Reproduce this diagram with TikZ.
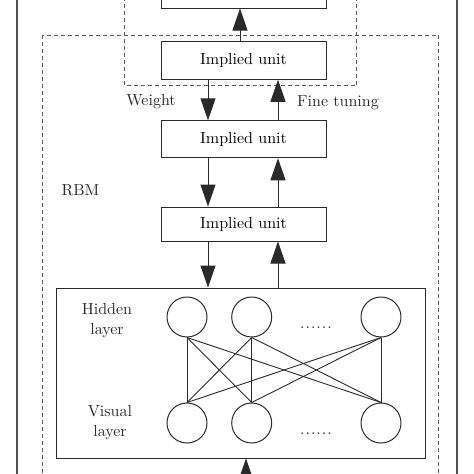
\documentclass[tikz,border=0pt]{standalone}
\usepackage{fontspec}
\setmainfont{lmroman10-regular.otf}
\usetikzlibrary{arrows.meta,calc}
\definecolor{linec}{HTML}{2A2A2A}
\definecolor{dashc}{HTML}{5A5A5A}
\definecolor{outerc}{HTML}{505050}
\begin{document}
\begin{tikzpicture}[x=1pt,y=-1pt, font=\fontsize{16}{20}\selectfont,
  unitbox/.style={draw=linec, line width=1pt, minimum width=165pt, inner sep=0pt},
  neuron/.style={circle, draw=linec, line width=1pt, minimum size=40pt, inner sep=0pt},
  dashbox/.style={draw=dashc, line width=1pt, dash pattern=on 4pt off 3pt},
  arr/.style={draw=linec, line width=1pt, -{Triangle[length=22pt,width=15pt]}},
  link/.style={draw=linec, line width=0.9pt},
  lbl/.style={text=linec, inner sep=0pt}]
\useasboundingbox (0,0) rectangle (474,474);
\clip (0,0) rectangle (474,474);
% outer solid frame
\draw[outerc, line width=1.1pt] (17,-10) rectangle (457,490);
% dashed frames
\draw[dashbox] (124.3,-10) rectangle (356.7,85.7);
\draw[dashbox] (42.7,35) rectangle (438.7,490);
% units
\node[unitbox, minimum height=46pt] (top) at (243.5,-15) {};
\node[unitbox, minimum height=37.5pt] (u1) at (243.5,60.5) {Implied unit};
\node[unitbox, minimum height=37pt] (u2) at (243.5,139.3) {Implied unit};
\node[unitbox, minimum height=34pt] (u3) at (243.5,224) {Implied unit};
\node[draw=linec, line width=1pt, minimum width=369pt, minimum height=170pt, inner sep=0pt] (rbmbox) at (240.5,373) {};
% arrow x positions
\coordinate (xt) at (240,0);
\coordinate (xd) at (208,0);
\coordinate (xu) at (278,0);
\coordinate (bin) at (246,490);
\draw[arr] (xt |- u1.north) -- (xt |- top.south);
\draw[arr] (xd |- u1.south) -- (xd |- u2.north);
\draw[arr] (xu |- u2.north) -- (xu |- u1.south);
\draw[arr] (xd |- u2.south) -- (xd |- u3.north);
\draw[arr] (xu |- u3.north) -- (xu |- u2.south);
\draw[arr] (xd |- u3.south) -- (xd |- rbmbox.north);
\draw[arr] (xu |- rbmbox.north) -- (xu |- u3.south);
\draw[arr] (bin) -- (bin |- rbmbox.south);
% labels
\node[lbl] (wl) at (151,102) {Weight};
\node[lbl] (fl) at (338,103) {Fine tuning};
\node[lbl] (rl) at (80.5,190) {RBM};
\node[lbl, align=center] (hl) at (107,321) {Hidden\\layer};
\node[lbl, align=center] (vl) at (110,423) {Visual\\layer};
% neurons
\node[neuron] (h1) at (187,317) {};
\node[neuron] (h2) at (251.7,317) {};
\node[neuron] (h3) at (381,317) {};
\node[neuron] (v1) at (187,423) {};
\node[neuron] (v2) at (251.7,423) {};
\node[neuron] (v3) at (381,423) {};
\node[lbl, anchor=base] (hd) at (316,328) {.\hspace{1pt}.\hspace{1pt}.\hspace{1pt}.\hspace{1pt}.\hspace{1pt}.};
\node[lbl, anchor=base] (vd) at (316,434) {.\hspace{1pt}.\hspace{1pt}.\hspace{1pt}.\hspace{1pt}.\hspace{1pt}.};
\foreach \a in {h1,h2,h3}
  \foreach \b in {v1,v2,v3}
    \draw[link] (\a.south) -- (\b.north);
\end{tikzpicture}
\end{document}
